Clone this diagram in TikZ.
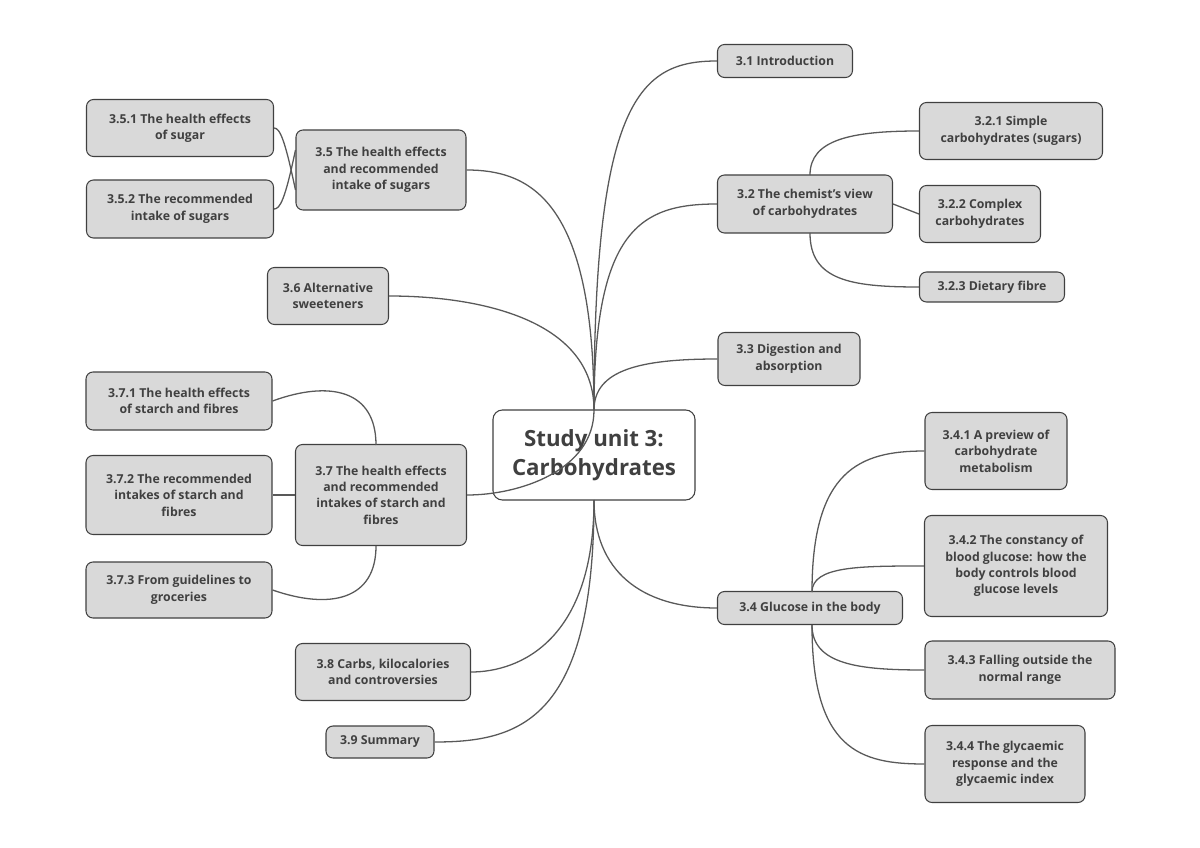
\documentclass[tikz,border=0pt]{standalone}
\usepackage{fontspec}
\setmainfont{Open Sans}
\begin{document}
\begin{tikzpicture}[x=0.03cm,y=-0.03cm,
 box/.style={draw=black!75,fill=black!15,rounded corners=6pt,line width=0.9pt,align=center,font=\fontsize{10.5}{14}\selectfont\bfseries\color{black!75},inner xsep=4pt,inner ysep=3pt},
 central/.style={draw=black!75,fill=white,rounded corners=8pt,line width=0.9pt,align=center,font=\fontsize{19}{25}\selectfont\bfseries\color{black!75},minimum width=202*0.03cm,minimum height=90*0.03cm},
 link/.style={draw=black!65,line width=1.1pt}]
\useasboundingbox (0,0) rectangle (1200,848);
\node[central] (c) at (594,455) {Study unit 3:\\Carbohydrates};
\node[box,minimum width=135*0.03cm,minimum height=33*0.03cm] (n31) at (785,61) {3.1 Introduction};
\node[box,minimum width=175*0.03cm,minimum height=58*0.03cm] (n32) at (805,204) {3.2 The chemist’s view\\of carbohydrates};
\node[box,minimum width=183*0.03cm,minimum height=57*0.03cm] (n321) at (1011,131) {3.2.1 Simple\\carbohydrates (sugars)};
\node[box,minimum width=121*0.03cm,minimum height=57*0.03cm] (n322) at (980,214) {3.2.2 Complex\\carbohydrates};
\node[box,minimum width=145*0.03cm,minimum height=30*0.03cm] (n323) at (992,287) {3.2.3 Dietary fibre};
\node[box,minimum width=142*0.03cm,minimum height=53*0.03cm] (n33) at (789,359) {3.3 Digestion and\\absorption};
\node[box,minimum width=185*0.03cm,minimum height=33*0.03cm] (n34) at (810,608) {3.4 Glucose in the body};
\node[box,minimum width=142*0.03cm,minimum height=77*0.03cm] (n341) at (996,451) {3.4.1 A preview of\\carbohydrate\\metabolism};
\node[box,minimum width=183*0.03cm,minimum height=101*0.03cm] (n342) at (1016,566) {3.4.2 The constancy of\\blood glucose: how the\\body controls blood\\glucose levels};
\node[box,minimum width=190*0.03cm,minimum height=58*0.03cm] (n343) at (1020,670) {3.4.3 Falling outside the\\normal range};
\node[box,minimum width=160*0.03cm,minimum height=77*0.03cm] (n344) at (1005,764) {3.4.4 The glycaemic\\response and the\\glycaemic index};
\node[box,minimum width=170*0.03cm,minimum height=80*0.03cm] (n35) at (381,170) {3.5 The health effects\\and recommended\\intake of sugars};
\node[box,minimum width=187*0.03cm,minimum height=57*0.03cm] (n351) at (180,128) {3.5.1 The health effects\\of sugar};
\node[box,minimum width=187*0.03cm,minimum height=58*0.03cm] (n352) at (180,209) {3.5.2 The recommended\\intake of sugars};
\node[box,minimum width=121*0.03cm,minimum height=57*0.03cm] (n36) at (328,296) {3.6 Alternative\\sweeteners};
\node[box,minimum width=171*0.03cm,minimum height=101*0.03cm] (n37) at (381,495) {3.7 The health effects\\and recommended\\intakes of starch and\\fibres};
\node[box,minimum width=186*0.03cm,minimum height=58*0.03cm] (n371) at (179,401) {3.7.1 The health effects\\of starch and fibres};
\node[box,minimum width=186*0.03cm,minimum height=79*0.03cm] (n372) at (179,495) {3.7.2 The recommended\\intakes of starch and\\fibres};
\node[box,minimum width=186*0.03cm,minimum height=56*0.03cm] (n373) at (179,590) {3.7.3 From guidelines to\\groceries};
\node[box,minimum width=175*0.03cm,minimum height=57*0.03cm] (n38) at (383,672) {3.8 Carbs, kilocalories\\and controversies};
\node[box,minimum width=108*0.03cm,minimum height=32*0.03cm] (n39) at (380,742) {3.9 Summary};
\coordinate (ct) at (594,410);
\coordinate (cb) at (594,500);
\begin{scope}[link]
\draw (ct) .. controls (594,100) and (640,61) .. (n31.west);
\draw (ct) .. controls (594,230) and (640,204) .. (n32.west);
\draw (ct) .. controls (594,370) and (640,359) .. (n33.west);
\draw (cb) .. controls (594,570) and (640,608) .. (n34.west);
\draw (ct) .. controls (594,200) and (530,170) .. (n35.east);
\draw (ct) .. controls (594,320) and (480,296) .. (n36.east);
\draw (ct) .. controls (594,470) and (520,495) .. (n37.east);
\draw (cb) .. controls (594,640) and (520,672) .. (n38.east);
\draw (cb) .. controls (594,720) and (520,742) .. (n39.east);
\draw (810,175) .. controls (810,140) and (850,131) .. (n321.west);
\draw (n32.east) -- (n322.west);
\draw (810,233) .. controls (810,280) and (850,287) .. (n323.west);
\draw (812,592) .. controls (812,470) and (860,451) .. (n341.west);
\draw (812,592) .. controls (812,566) and (860,566) .. (n342.west);
\draw (812,625) .. controls (812,665) and (860,670) .. (n343.west);
\draw (812,625) .. controls (812,750) and (860,764) .. (n344.west);
\draw (n35.west) ++(0,-20*0.03cm) .. controls (285,140) and (280,128) .. (n351.east);
\draw (n35.west) ++(0,20*0.03cm) .. controls (285,200) and (280,209) .. (n352.east);
\draw (376,445) .. controls (376,390) and (330,380) .. (n371.east);
\draw (n37.west) -- (n372.east);
\draw (376,546) .. controls (376,600) and (330,610) .. (n373.east);
\end{scope}
\end{tikzpicture}
\end{document}
